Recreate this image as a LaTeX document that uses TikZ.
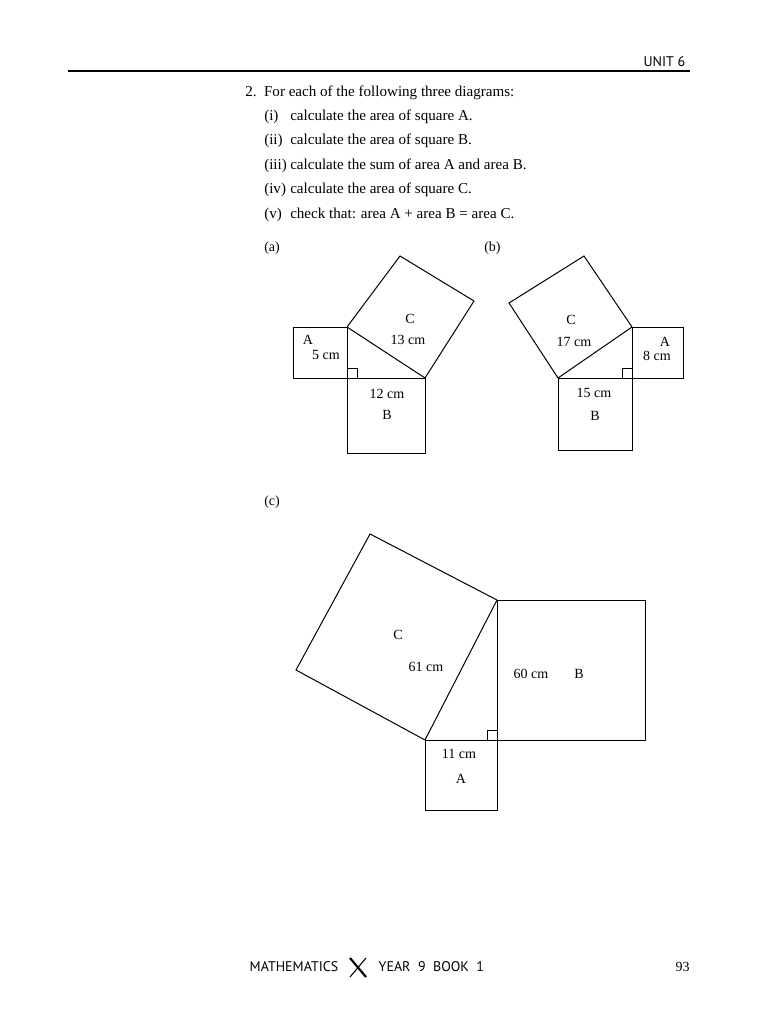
\documentclass[tikz,border=0pt]{standalone}
\usepackage{fontspec}
\setmainfont{Liberation Serif}
\newfontfamily\hdr{PT Sans}
\begin{document}
\begin{tikzpicture}[x=0.75pt,y=-0.75pt,
  sq/.style={draw,line width=0.75pt,line join=miter},
  lbl/.style={font=\fontsize{10.5}{12}\selectfont,inner sep=0pt},
  ql/.style={font=\fontsize{11.3}{13}\selectfont,inner sep=0pt,anchor=base west},
  ra/.style={draw,line width=0.5pt}]
\useasboundingbox (0,0) rectangle (768,1024);
% header
\node[font=\hdr\fontsize{10.5}{12}\selectfont,anchor=east] (unit) at (690,62) {UNIT 6};
\draw[line width=0.8pt] (68,71) coordinate (hl) -- (690,71) coordinate (hr);
% question text
\node[ql] (q) at (245,96) {2.\ \ For each of the following three diagrams:};
\node[ql] (q1) at (264,120) {(i)};\node[ql] (t1) at (290,120) {calculate the area of square A.};
\node[ql] (q2) at (264,144) {(ii)};\node[ql] (t2) at (290,144) {calculate the area of square B.};
\node[ql] (q3) at (264,169) {(iii)};\node[ql] (t3) at (290,169) {calculate the sum of area A and area B.};
\node[ql] (q4) at (264,193) {(iv)};\node[ql] (t4) at (290,193) {calculate the area of square C.};
\node[ql] (q5) at (264,218) {(v)};\node[ql] (t5) at (290,218) {check that: area A + area B = area C.};
\node[lbl,anchor=base west] (la) at (264,251) {(a)};
\node[lbl,anchor=base west] (lb) at (484,251) {(b)};
\node[lbl,anchor=base west] (lc) at (264,505) {(c)};
% diagram (a)
\draw[sq] (293,327) rectangle (347,378);
\draw[sq] (347,378) rectangle (425,453);
\draw[sq] (347,327) -- (425,378);
\draw[sq] (347,327) -- (400,256) -- (474,301) -- (425,378);
\draw[ra] (347,368) -- (357,368) -- (357,378);
\node[lbl] (aA) at (308,340) {A};
\node[lbl] (a5) at (326,355) {5 cm};
\node[lbl] (aC) at (410,319) {C};
\node[lbl] (a13) at (408,340) {13 cm};
\node[lbl] (a12) at (387,394) {12 cm};
\node[lbl] (aB) at (387,415) {B};
% diagram (b)
\draw[sq] (558,378) rectangle (632,450);
\draw[sq] (632,327) rectangle (683,378);
\draw[sq] (558,378) -- (632,327);
\draw[sq] (558,378) -- (509,303) -- (584,256) -- (632,327);
\draw[ra] (622,378) -- (622,368) -- (632,368);
\node[lbl] (bC) at (571,320) {C};
\node[lbl] (b17) at (574,342) {17 cm};
\node[lbl] (bA) at (665,342) {A};
\node[lbl] (b8) at (657,356) {8 cm};
\node[lbl] (b15) at (594,393) {15 cm};
\node[lbl] (bB) at (595,416) {B};
% diagram (c)
\draw[sq] (425,740) rectangle (497,810);
\draw[sq] (497,600) rectangle (645,740);
\draw[sq] (425,740) -- (497,600);
\draw[sq] (425,740) -- (296,670) -- (370,534) -- (497,600);
\draw[ra] (487,740) -- (487,730) -- (497,730);
\node[lbl] (cC) at (398,635) {C};
\node[lbl] (c61) at (426,667) {61 cm};
\node[lbl] (c60) at (531,674) {60 cm};
\node[lbl] (cB) at (579,674) {B};
\node[lbl] (c11) at (459,754) {11 cm};
\node[lbl] (cA) at (461,779) {A};
% footer
\node[font=\hdr\fontsize{10.5}{12}\selectfont,anchor=west] (fm) at (245,967) {MATHEMATICS};
\draw[line width=1.6pt] (350,958) -- (366,977);
\draw[line width=0.8pt] (366,958) -- (350,977);
\node[font=\hdr\fontsize{10.5}{12}\selectfont,anchor=west] (fy) at (374,967) {YEAR\ \ 9\ \ BOOK\ \ 1};
\node[lbl,anchor=east] (pg) at (690,967) {93};
\end{tikzpicture}
\end{document}
